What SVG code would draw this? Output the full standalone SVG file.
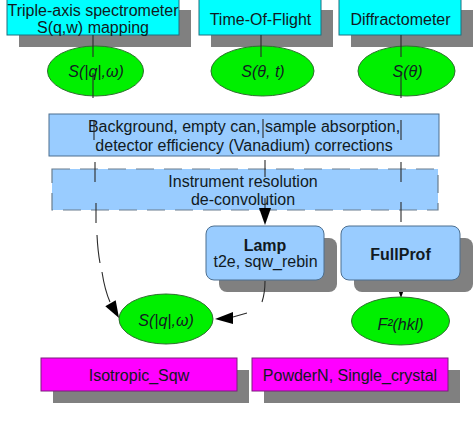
<svg xmlns="http://www.w3.org/2000/svg" width="474" height="422" viewBox="0 0 474 422">
<style>
.sh{fill:#808080}
.src{fill:#00ffff;stroke:#1f6f7f;stroke-width:1}
.ell{fill:#00f000;stroke:#2f6f2f;stroke-width:1}
.proc{fill:#99ccff;stroke:#4d6f8f;stroke-width:1}
.dash{fill:#99ccff;stroke:#6a7d8e;stroke-width:1.2;stroke-dasharray:18 10}
.out{fill:#ff00ff;stroke:#7a1f7a;stroke-width:1}
text{font-family:"Liberation Sans",Arial,sans-serif;font-size:16px;fill:#111a22;text-anchor:middle}
.it{font-style:italic}
.b{font-weight:bold}
.cn{fill:none;stroke:#2a2a2a;stroke-width:1.1}
.ah{fill:#000}
</style>
<rect width="474" height="422" fill="#fff"/>
<g id="triple">
<rect class="sh" x="19" y="10" width="172" height="37"/>
<rect class="src" x="7" y="-2" width="172" height="37"/>
<text x="93" y="15.5">Triple-axis spectrometer</text>
<text x="93" y="33">S(q,w) mapping</text>
</g>
<g id="tof">
<rect class="sh" x="211" y="10" width="122" height="37"/>
<rect class="src" x="199" y="-2" width="122" height="37"/>
<text x="260.5" y="24.5">Time-Of-Flight</text>
</g>
<g id="diff">
<rect class="sh" x="351" y="10" width="122" height="37"/>
<rect class="src" x="339" y="-2" width="122" height="37"/>
<text x="400.5" y="24.5">Diffractometer</text>
</g>
<g id="sqw1">
<ellipse class="ell" cx="95.5" cy="71" rx="48" ry="25"/>
<text class="it" x="96" y="76.5">S(|q|,ω)</text>
</g>
<g id="stt">
<ellipse class="ell" cx="262.5" cy="71" rx="51.5" ry="25"/>
<text class="it" x="263" y="76.5">S(θ, t)</text>
</g>
<g id="st">
<ellipse class="ell" cx="406.5" cy="71" rx="48.5" ry="25"/>
<text class="it" x="407.5" y="76.5">S(θ)</text>
</g>
<g id="corrections">
<rect class="proc" x="49" y="114" width="390" height="42"/>
<text x="244" y="132">Background, empty can, sample absorption,</text>
<text x="244" y="151">detector efficiency (Vanadium) corrections</text>
</g>
<g id="resolution">
<rect class="dash" x="52" y="169" width="386" height="41"/>
<text x="243" y="186.5">Instrument resolution</text>
<text x="243" y="205">de-convolution</text>
</g>
<g id="lamp">
<rect class="sh" x="219" y="238" width="118" height="54" rx="8"/>
<rect class="proc" x="206" y="226" width="118" height="54" rx="8"/>
<text class="b" x="265" y="250.5">Lamp</text>
<text x="265.5" y="267">t2e, sqw_rebin</text>
</g>
<g id="sqw2">
<ellipse class="ell" cx="166" cy="319" rx="47" ry="25"/>
<text class="it" x="166" y="326">S(|q|,ω)</text>
</g>
<g id="isotropic">
<rect class="sh" x="53" y="370" width="196" height="33"/>
<rect class="out" x="41" y="358" width="196" height="33"/>
<text x="139" y="380.5">Isotropic_Sqw</text>
</g>
<g id="powder">
<rect class="sh" x="264" y="370" width="196" height="33"/>
<rect class="out" x="252" y="358" width="196" height="33"/>
<text x="350" y="380.5">PowderN, Single_crystal</text>
</g>
<g id="connectors">
<path class="cn" d="M93,35V57M93,73V98M94,120V140M95,162V182M96,203V223M97,235C97.5,245 98.5,255 100,263M102,272C104,285 106.5,294 110,302"/>
<polygon class="ah" points="105.3,306.3 115.7,300.3 119,318"/>
<path class="cn" d="M261,35V57M263,119V138M265,160V177M265,198V209"/>
<polygon class="ah" points="259,208 271,208 265,225"/>
<path class="cn" d="M401,35V57M401,73V98M401,120V140M401,162V182M401,202V222M401,226V290"/>
<polygon class="ah" points="397.5,288 404.5,288 401,298"/>
<path class="cn" d="M265,281C265,290 264,296 262,302M247,313L233,317"/>
<polygon class="ah" points="233,312 233,324 215,319"/>
</g>
<g id="fullprof">
<rect class="sh" x="354" y="238" width="119" height="54" rx="8"/>
<rect class="proc" x="341" y="226" width="119" height="54" rx="8"/>
<text class="b" x="400.5" y="259.5">FullProf</text>
</g>
<g id="f2">
<ellipse class="ell" cx="400.5" cy="321" rx="49" ry="24"/>
<text class="it" x="400.5" y="329.5">F²(hkl)</text>
</g>
</svg>
